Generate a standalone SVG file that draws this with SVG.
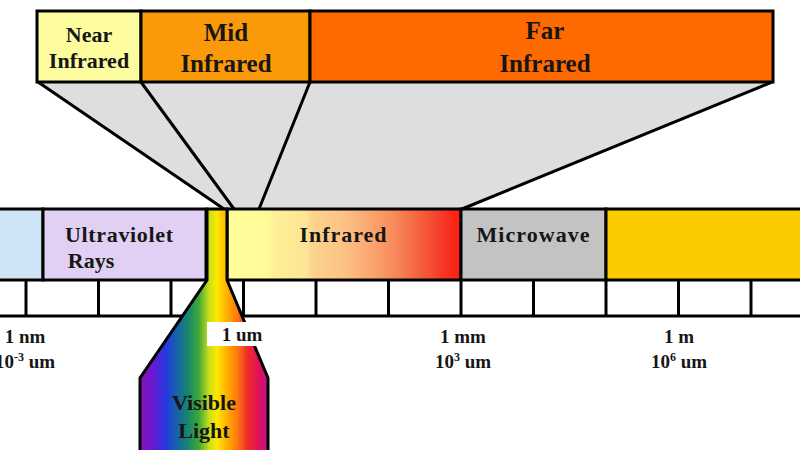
<svg xmlns="http://www.w3.org/2000/svg" width="800" height="450" viewBox="0 0 800 450">
  <style>
    .t { font-family: "Liberation Serif", "DejaVu Serif", "Times New Roman", serif; font-weight: bold; fill: #161616; text-anchor: middle; }
    .ln { stroke: #000; stroke-width: 3; fill: none; }
    .box { stroke: #000; stroke-width: 3; }
    .sup { font-size: 12px; }
  </style>
  <defs>
    <linearGradient id="ir" gradientUnits="userSpaceOnUse" x1="227" y1="0" x2="461" y2="0">
      <stop offset="0" stop-color="#ffff9c"/>
      <stop offset="0.18" stop-color="#fffa98"/>
      <stop offset="0.2" stop-color="#fff097"/>
      <stop offset="0.34" stop-color="#fde496"/>
      <stop offset="0.36" stop-color="#fcd58e"/>
      <stop offset="0.5" stop-color="#fcc286"/>
      <stop offset="0.62" stop-color="#fba56e"/>
      <stop offset="0.72" stop-color="#f8885a"/>
      <stop offset="0.82" stop-color="#f5613e"/>
      <stop offset="0.92" stop-color="#f33a28"/>
      <stop offset="1" stop-color="#ff1a10"/>
    </linearGradient>
    <linearGradient id="rainbow" gradientUnits="userSpaceOnUse" x1="140" y1="0" x2="268" y2="0">
      <stop offset="0" stop-color="#8c10b4"/>
      <stop offset="0.1" stop-color="#6a18d0"/>
      <stop offset="0.2" stop-color="#2438e0"/>
      <stop offset="0.3" stop-color="#1668a0"/>
      <stop offset="0.38" stop-color="#18886a"/>
      <stop offset="0.46" stop-color="#40a838"/>
      <stop offset="0.54" stop-color="#c8e018"/>
      <stop offset="0.6" stop-color="#ffe800"/>
      <stop offset="0.68" stop-color="#ffb000"/>
      <stop offset="0.76" stop-color="#ff7a10"/>
      <stop offset="0.84" stop-color="#ec2c28"/>
      <stop offset="0.93" stop-color="#e0105c"/>
      <stop offset="1" stop-color="#c01090"/>
    </linearGradient>
  </defs>

  <rect width="800" height="450" fill="#fff"/>

  <!-- gray zoom fan -->
  <polygon points="37,82 773,82 462,209 224,209" fill="#dedede"/>

  <g id="connectors">
    <line class="ln" x1="38" y1="82" x2="224" y2="209"/>
    <line class="ln" x1="141" y1="82" x2="234" y2="209"/>
    <line class="ln" x1="310" y1="82" x2="259" y2="209"/>
    <line class="ln" x1="772" y1="82" x2="462" y2="209"/>
  </g>

  <g id="near-infrared">
    <rect class="box" x="37" y="11" width="104" height="71" fill="#fdfc9e"/>
    <text class="t" x="89" y="42" font-size="22">Near</text>
    <text class="t" x="89" y="68" font-size="22">Infrared</text>
  </g>
  <g id="mid-infrared">
    <rect class="box" x="141" y="11" width="169" height="71" fill="#fb9a08"/>
    <text class="t" x="226" y="41" font-size="25">Mid</text>
    <text class="t" x="226" y="72" font-size="25">Infrared</text>
  </g>
  <g id="far-infrared">
    <rect class="box" x="310" y="11" width="463" height="71" fill="#ff6a00"/>
    <text class="t" x="545" y="39" font-size="25">Far</text>
    <text class="t" x="545" y="72" font-size="25">Infrared</text>
  </g>

  <!-- scale row -->
  <g id="scale">
    <line class="ln" x1="-2" y1="316" x2="802" y2="316"/>
    <line class="ln" x1="26" y1="280" x2="26" y2="316"/>
    <line class="ln" x1="98.5" y1="280" x2="98.5" y2="316"/>
    <line class="ln" x1="171" y1="280" x2="171" y2="316"/>
    <line class="ln" x1="243.5" y1="280" x2="243.5" y2="316"/>
    <line class="ln" x1="316" y1="280" x2="316" y2="316"/>
    <line class="ln" x1="388.5" y1="280" x2="388.5" y2="316"/>
    <line class="ln" x1="461" y1="280" x2="461" y2="316"/>
    <line class="ln" x1="533.5" y1="280" x2="533.5" y2="316"/>
    <line class="ln" x1="606" y1="280" x2="606" y2="316"/>
    <line class="ln" x1="678.5" y1="280" x2="678.5" y2="316"/>
    <line class="ln" x1="751" y1="280" x2="751" y2="316"/>
  </g>

  <!-- spectrum bar -->
  <g id="x-ray">
    <rect class="box" x="-3" y="209" width="46" height="71" fill="#cde3f6"/>
  </g>
  <g id="ultraviolet">
    <rect class="box" x="43" y="209" width="163" height="71" fill="#e1d0f3"/>
    <text class="t" x="119" y="242" font-size="22" textLength="108">Ultraviolet</text>
    <text class="t" x="91" y="268" font-size="22">Rays</text>
  </g>
  <g id="infrared">
    <rect class="box" x="227" y="209" width="234" height="71" fill="url(#ir)"/>
    <text class="t" x="343" y="242" font-size="22" textLength="87">Infrared</text>
  </g>
  <g id="microwave">
    <rect class="box" x="461" y="209" width="145" height="71" fill="#c3c3c3"/>
    <text class="t" x="533" y="242" font-size="22" textLength="113">Microwave</text>
  </g>
  <g id="radio">
    <rect class="box" x="606" y="209" width="197" height="71" fill="#fbcb00"/>
  </g>

  <g id="visible-light">
    <polygon class="box" points="207,209 227,209 227,280 268,378 268,453 140,453 140,378 207,280" fill="url(#rainbow)" stroke-linejoin="miter"/>
    <text class="t" x="204" y="410" font-size="22" fill="#14142a">Visible</text>
    <text class="t" x="204" y="438" font-size="22" fill="#14142a">Light</text>
  </g>

  <g id="labels">
    <text class="t" x="25" y="343" font-size="19">1 nm</text>
    <text class="t" x="25" y="368" font-size="19">10<tspan class="sup" dy="-7">-3</tspan><tspan dy="7"> um</tspan></text>
    <rect x="207" y="322" width="58" height="24" fill="#fff"/>
    <text class="t" x="242" y="341" font-size="19">1 um</text>
    <text class="t" x="463" y="343" font-size="19">1 mm</text>
    <text class="t" x="463" y="368" font-size="19">10<tspan class="sup" dy="-7">3</tspan><tspan dy="7"> um</tspan></text>
    <text class="t" x="679" y="343" font-size="19">1 m</text>
    <text class="t" x="679" y="368" font-size="19">10<tspan class="sup" dy="-7">6</tspan><tspan dy="7"> um</tspan></text>
  </g>
</svg>
